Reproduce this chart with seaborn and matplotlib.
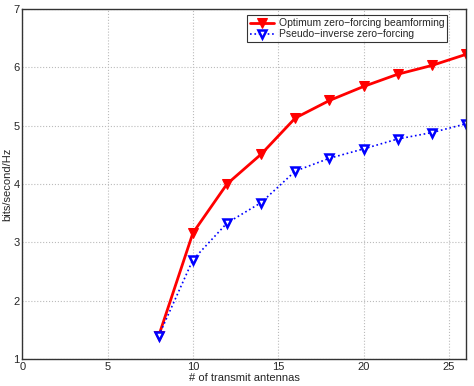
import seaborn as sns
import matplotlib.pyplot as plt
import pandas as pd

antennas = [8, 10, 12, 14, 16, 18, 20, 22, 24, 26]
optimum_zf = [1.40, 3.16, 4.00, 4.51, 5.13, 5.43, 5.67, 5.88, 6.03, 6.22]
pseudo_inverse_zf = [1.40, 2.70, 3.33, 3.68, 4.22, 4.44, 4.60, 4.77, 4.88, 5.03]

labels = ['Optimum zero\u2212forcing beamforming', 'Pseudo\u2212inverse zero\u2212forcing']

df = pd.DataFrame({
    'antennas': antennas * 2,
    'rate': optimum_zf + pseudo_inverse_zf,
    'scheme': [labels[0]] * len(antennas) + [labels[1]] * len(antennas),
})

sns.set_style('white')
plt.rcParams['font.family'] = ['Liberation Sans', 'DejaVu Sans']

fig = plt.figure(figsize=(4.74, 3.86), dpi=100)
ax = fig.add_axes([0.047, 0.070, 0.936, 0.907])

sns.lineplot(data=df[df.scheme == labels[0]], x='antennas', y='rate',
             color='#ff0000', linewidth=2, marker='v', markersize=7,
             markerfacecolor='#ff0000', markeredgecolor='#ff0000',
             label=labels[0], ax=ax)
sns.lineplot(data=df[df.scheme == labels[1]], x='antennas', y='rate',
             color='#0000ff', linewidth=1.2, linestyle=':', marker='v', markersize=6,
             markerfacecolor='white', markeredgecolor='#0000ff', markeredgewidth=1.8,
             label=labels[1], ax=ax)

ax.set_xlim(0, 26)
ax.set_ylim(1, 7)
ax.set_xticks([0, 5, 10, 15, 20, 25])
ax.set_yticks([1, 2, 3, 4, 5, 6, 7])
ax.grid(True, linestyle=':', color='#bbbbbb', linewidth=0.8)
ax.tick_params(labelsize=8, direction='in', length=3, pad=2)
ax.set_xlabel('# of transmit antennas', fontsize=8, labelpad=1)
ax.set_ylabel('bits/second/Hz', fontsize=8, labelpad=1)
for s in ax.spines.values():
    s.set_color('#333333')
    s.set_linewidth(1)

leg = ax.legend(loc='upper right', bbox_to_anchor=(0.958, 0.982), fontsize=7.5,
                frameon=True, fancybox=False, edgecolor='black', handlelength=2.3,
                borderpad=0.3, labelspacing=0.1, borderaxespad=0.0, handletextpad=0.4)
leg.get_frame().set_linewidth(0.8)

fig.savefig('out.png', dpi=100)
